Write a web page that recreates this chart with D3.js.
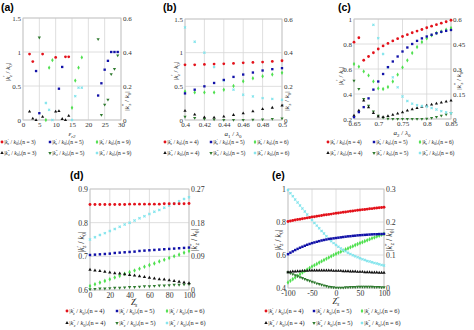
<!DOCTYPE html>
<html><head><meta charset="utf-8">
<script src="https://cdn.jsdelivr.net/npm/d3@7"></script>
<style>body{margin:0;background:#fff}svg{display:block}</style>
</head><body><svg id="c" width="474" height="330"></svg>
<script>
// ---------------- DATA ----------------
// (a) scattered points [eps_r2, value]
const aRed   = [[2,0.97],[3,0.86],[6,0.97],[10,0.92],[13,0.93],[14,0.93]];
const aBlue  = [[4,0.72],[5,0.1],[11,0.46],[12,0.78],[23,0.36],[24,0.54],[25,0.74],[26,0.87],[27,1.0],[28,1.0],[29,1.0]];
const aGreen = [[7,0.0],[8,0.77],[9,0.88],[15,0.18],[16,0.58],[17,0.77],[18,0.92]];
const aBlack = [[2,0.049],[3,0.008],[4,0.0],[6,0.018],[10,0.05],[11,0.052],[12,0.006],[13,0.0],[14,0.024]];
const aOlive = [[5,0.485],[23,0.475],[24,0.03],[25,0.09],[26,0.12],[27,0.27],[28,0.3],[29,0.38]];
const aCyan  = [[7,0.1],[8,0.06],[9,0.0],[15,0.0],[16,0.14],[17,0.19],[18,0.19]];
const aXTicks = [0,5,10,15,20,25,30], aYLTicks = [0,0.5,1,1.5], aYRTicks = [0,0.2,0.4,0.6];

// (b)
const bX     = [0.40,0.41,0.42,0.43,0.44,0.45,0.46,0.47,0.48,0.49,0.50];
const bRed   = [0.82,0.82,0.825,0.83,0.835,0.84,0.85,0.855,0.86,0.87,0.88];
const bBlue  = [0.395,0.45,0.5,0.55,0.595,0.64,0.675,0.705,0.735,0.755,0.77];
const bGreen = [0.425,0.41,0.41,0.41,0.45,0.505,0.575,0.62,0.65,0.675,0.70];
const bBlack = [0.055,0.032,0.016,0.014,0.02,0.03,0.04,0.052,0.065,0.073,0.085];
const bOlive = [0.02,0.012,0.006,0.003,0.001,0,0,0.002,0.004,0.007,0.01];
const bCyan  = [0.55,0.465,0.40,0.315,0.235,0.18,0.15,0.14,0.13,0.125,0.12];
const bXTicks = [0.4,0.42,0.44,0.46,0.48,0.5], bYLTicks = [0,0.5,1,1.5], bYRTicks = [0,0.2,0.4,0.6];

// (c)
const cX     = [0.65,0.66,0.67,0.68,0.69,0.70,0.71,0.72,0.73,0.74,0.75,0.76,0.77,0.78,0.79,0.80,0.81,0.82,0.83,0.84,0.85];
const cRed   = [0.815,0.85,0.67,0.70,0.73,0.76,0.785,0.805,0.825,0.843,0.86,0.875,0.89,0.903,0.916,0.93,0.943,0.955,0.967,0.978,0.99];
const cBlue  = [0.215,0.255,0.295,0.365,0.435,0.5,0.56,0.615,0.66,0.7,0.74,0.772,0.8,0.825,0.845,0.86,0.874,0.886,0.897,0.905,0.912];
const cGreen = [0.64,0.619,0.581,0.549,0.501,0.445,0.44,0.456,0.5,0.555,0.613,0.669,0.728,0.776,0.816,0.845,0.869,0.888,0.9,0.915,0.928];
const cBlack = [0.02,0.05,0.11,0.07,0.035,0.015,0.012,0.018,0.025,0.032,0.04,0.05,0.058,0.066,0.073,0.08,0.086,0.092,0.098,0.104,0.11];
const cOlive = [0.23,0.18,0.12,0.08,0.045,0.02,0.008,0.002,0,0,0,0,0,0,0,0.002,0.006,0.012,0.02,0.028,0.035];
const cCyan  = [null,null,null,null,0.565,0.485,0.39,0.31,0.25,0.19,0.135,0.108,0.092,0.083,0.078,0.075,0.066,0.057,0.047,0.04,0.035];
const cXTicks = [0.65,0.7,0.75,0.8,0.85], cYLTicks = [0.2,0.4,0.6,0.8,1], cYRTicks = [0,0.15,0.3,0.45,0.6];

// (d)
const dX     = [0,5,10,15,20,25,30,35,40,45,50,55,60,65,70,75,80,85,90,95,100];
const dRed   = [0.854,0.854,0.854,0.854,0.854,0.854,0.854,0.854,0.855,0.855,0.855,0.855,0.855,0.855,0.855,0.856,0.856,0.856,0.856,0.856,0.857];
const dBlue  = [0.704,0.705,0.706,0.707,0.708,0.710,0.711,0.712,0.713,0.714,0.716,0.717,0.718,0.719,0.720,0.721,0.722,0.723,0.724,0.725,0.726];
const dGreen = [0.612,0.617,0.622,0.627,0.632,0.637,0.642,0.648,0.653,0.658,0.663,0.669,0.674,0.679,0.685,0.690,0.695,0.700,0.705,0.711,0.716];
const dBlack = [0.054,0.052,0.051,0.049,0.047,0.045,0.044,0.042,0.040,0.039,0.037,0.035,0.033,0.031,0.029,0.028,0.026,0.024,0.022,0.020,0.018];
const dOlive = [0.002,0.003,0.004,0.004,0.005,0.006,0.006,0.007,0.008,0.008,0.009,0.010,0.010,0.011,0.012,0.012,0.013,0.014,0.014,0.015,0.016];
const dCyan  = [0.135,0.141,0.147,0.152,0.158,0.163,0.169,0.175,0.180,0.186,0.192,0.197,0.203,0.209,0.214,0.220,0.226,0.231,0.237,0.243,0.248];
const dXTicks = [0,20,40,60,80,100], dYLTicks = [0.6,0.7,0.8,0.9], dYRTicks = [0,0.09,0.18,0.27];

// (e)
const eX     = [-100,-95,-90,-85,-80,-75,-70,-65,-60,-55,-50,-45,-40,-35,-30,-25,-20,-15,-10,-5,0,5,10,15,20,25,30,35,40,45,50,55,60,65,70,75,80,85,90,95,100];
const eRed   = [0.803,0.806,0.809,0.812,0.815,0.817,0.820,0.822,0.825,0.827,0.830,0.832,0.835,0.837,0.839,0.842,0.844,0.846,0.848,0.851,0.853,0.855,0.857,0.859,0.861,0.863,0.865,0.867,0.869,0.871,0.873,0.875,0.876,0.878,0.880,0.881,0.883,0.885,0.886,0.888,0.889];
const eBlue  = [0.605,0.614,0.622,0.630,0.637,0.644,0.650,0.656,0.662,0.667,0.672,0.676,0.680,0.684,0.688,0.691,0.694,0.697,0.699,0.701,0.703,0.705,0.707,0.709,0.711,0.713,0.714,0.716,0.717,0.719,0.720,0.721,0.722,0.723,0.724,0.725,0.726,0.726,0.727,0.727,0.728];
const eGreen = [0.434,0.444,0.454,0.464,0.474,0.484,0.494,0.503,0.512,0.521,0.530,0.538,0.546,0.554,0.562,0.570,0.577,0.585,0.592,0.600,0.607,0.614,0.620,0.627,0.634,0.640,0.647,0.653,0.660,0.666,0.672,0.678,0.684,0.689,0.695,0.701,0.706,0.712,0.717,0.723,0.728];
const eBlack = [0.048,0.049,0.050,0.050,0.051,0.051,0.052,0.052,0.052,0.053,0.053,0.053,0.053,0.053,0.053,0.053,0.053,0.053,0.053,0.052,0.052,0.052,0.052,0.051,0.051,0.051,0.050,0.050,0.050,0.049,0.049,0.049,0.048,0.048,0.048,0.047,0.047,0.047,0.046,0.046,0.046];
const eOlive = [0.048,0.045,0.042,0.039,0.036,0.033,0.030,0.027,0.024,0.022,0.019,0.017,0.014,0.012,0.010,0.008,0.006,0.004,0.003,0.002,0.001,0.001,0.001,0.001,0.002,0.002,0.003,0.003,0.003,0.004,0.004,0.004,0.004,0.004,0.004,0.004,0.003,0.003,0.003,0.002,0.002];
const eCyan  = [0.297,0.287,0.278,0.268,0.259,0.250,0.241,0.232,0.223,0.214,0.206,0.197,0.189,0.181,0.173,0.165,0.157,0.149,0.142,0.136,0.130,0.125,0.120,0.115,0.111,0.107,0.103,0.099,0.096,0.093,0.090,0.087,0.085,0.082,0.080,0.078,0.076,0.074,0.072,0.070,0.068];
const eXTicks = [-100,-50,0,50,100], eYLTicks = [0.4,0.6,0.8,1], eYRTicks = [0,0.1,0.2,0.3];

const legendN = {a:[3,5,9], b:[4,5,6], c:[4,5,6], d:[4,5,6], e:[4,5,6]};

// ---------------- STYLE ----------------
const SER = {
  red:   {color:"#e3121b", sym:d3.symbolCircle,   rot:0,   size:6},
  blue:  {color:"#1212a8", sym:d3.symbolSquare,   rot:0,   size:5.5},
  green: {color:"#4fe04f", sym:d3.symbolDiamond,  rot:0,   size:5.5},
  black: {color:"#111111", sym:d3.symbolTriangle, rot:0,   size:4.5},
  olive: {color:"#2f7a2f", sym:d3.symbolTriangle, rot:180, size:4.5},
  cyan:  {color:"#80e4ec", sym:d3.symbolCross,    rot:45,  size:5}
};
const SERIF = "'Liberation Serif','Times New Roman',serif";
const svg = d3.select("#c");

function rich(sel, parts, fs) {
  let prev = 0;
  parts.forEach(p => {
    const sh = (p.s || 0) * fs;
    const t = sel.append("tspan").attr("dy", (sh - prev).toFixed(2))
      .attr("font-size", ((p.k || 1) * fs).toFixed(2)).text(p.t);
    if (p.dx) t.attr("dx", (p.dx * fs).toFixed(2));
    if (p.i) t.attr("font-style", "italic");
    prev = sh;
  });
}
const kParts = pr => [{t:"|"},{t:"k",i:true},{t:pr,s:-0.38,k:0.75},{t:"z",s:0.28,k:0.7,dx:-0.22,i:true},
  {t:" / "},{t:"k",i:true},{t:"0",s:0.28,k:0.7},{t:"|"}];

function panel(c) {
  const g = svg.append("g");
  const x  = d3.scaleLinear().domain(c.xd).range([c.x0, c.x1]);
  const yL = d3.scaleLinear().domain(c.yld).range([c.yb, c.yt]);
  const yR = d3.scaleLinear().domain(c.yrd).range([c.yb, c.yt]);
  // grid
  g.append("g").selectAll("line").data(c.xt).join("line")
    .attr("x1", d => x(d)).attr("x2", d => x(d)).attr("y1", c.yt).attr("y2", c.yb)
    .attr("stroke", "#d6d6d6").attr("stroke-width", 0.8);
  g.append("g").selectAll("line").data(c.ylt).join("line")
    .attr("y1", d => yL(d)).attr("y2", d => yL(d)).attr("x1", c.x0).attr("x2", c.x1)
    .attr("stroke", "#d6d6d6").attr("stroke-width", 0.8);
  g.append("rect").attr("x", c.x0).attr("y", c.yt).attr("width", c.x1 - c.x0).attr("height", c.yb - c.yt)
    .attr("fill", "none").attr("stroke", "#c4c4c4").attr("stroke-width", 0.8);
  // axes
  const styleAx = a => { a.select(".domain").remove(); a.selectAll("line").remove();
    a.selectAll("text").attr("font-family", SERIF).attr("font-size", c.fs).attr("fill", "#333"); };
  g.append("g").attr("transform", `translate(0,${c.yb})`)
    .call(d3.axisBottom(x).tickValues(c.xt).tickSize(0).tickPadding(2.5).tickFormat(d => String(d))).call(styleAx);
  g.append("g").attr("transform", `translate(${c.x0},0)`)
    .call(d3.axisLeft(yL).tickValues(c.ylt).tickSize(0).tickPadding(2).tickFormat(d => String(d))).call(styleAx);
  g.append("g").attr("transform", `translate(${c.x1},0)`)
    .call(d3.axisRight(yR).tickValues(c.yrt).tickSize(0).tickPadding(2).tickFormat(d => String(d))).call(styleAx);
  // marks
  c.series.forEach(s => {
    const st = SER[s.key], ys = s.axis === "L" ? yL : yR;
    g.append("g").selectAll("path").data(s.data.filter(d => d[1] != null)).join("path")
      .attr("d", d3.symbol().type(st.sym).size(st.size * c.ms))
      .attr("transform", d => `translate(${x(d[0]).toFixed(2)},${ys(d[1]).toFixed(2)}) rotate(${st.rot})`)
      .attr("fill", st.color);
  });
  // title
  g.append("text").attr("x", c.tx).attr("y", c.ty).attr("font-family", "'Liberation Sans',Arial,sans-serif")
    .attr("font-weight", "bold").attr("font-size", 10.5).text(c.title);
  // axis labels
  const lt = g.append("text").attr("font-family", SERIF).attr("fill", "#222").attr("text-anchor", "middle")
    .attr("transform", `translate(${c.ll[0]},${c.ll[1]}) rotate(-90)`);
  rich(lt, kParts("\u2032"), c.afs);
  const rt = g.append("text").attr("font-family", SERIF).attr("fill", "#222").attr("text-anchor", "middle")
    .attr("transform", `translate(${c.rl[0]},${c.rl[1]}) rotate(-90)`);
  rich(rt, kParts("\u2033"), c.afs);
  const xl = g.append("text").attr("font-family", SERIF).attr("fill", "#222").attr("text-anchor", "middle")
    .attr("x", c.xl[0]).attr("y", c.xl[1]);
  rich(xl, c.xlab, c.afs);
  // legend
  const rows = [["red","blue","green"],["black","olive","cyan"]];
  rows.forEach((row, ri) => row.forEach((k, ci) => {
    const lx = c.lx[ci], ly = c.ly[ri], st = SER[k];
    g.append("path").attr("d", d3.symbol().type(st.sym).size(st.size * 1.1))
      .attr("transform", `translate(${lx},${ly}) rotate(${st.rot})`).attr("fill", st.color);
    const t = g.append("text").attr("font-family", SERIF).attr("fill", "#222")
      .attr("x", lx + 2.2).attr("y", ly + c.lfs * 0.33);
    rich(t, kParts(ri === 0 ? "\u2032" : "\u2033").concat([{t:",(n = " + c.n[ci] + ")"}]), c.lfs);
  }));
}

const zip = (xs, ys) => xs.map((v, i) => [v, ys[i]]);
const mkSeries = (r, b, gr, bk, ol, cy) => [
  {key:"green", axis:"L", data:gr}, {key:"olive", axis:"R", data:ol}, {key:"black", axis:"R", data:bk},
  {key:"cyan", axis:"R", data:cy}, {key:"blue", axis:"L", data:b}, {key:"red", axis:"L", data:r}];

panel({title:"(a)", tx:1, ty:11, x0:23, x1:121, yt:18, yb:120, xd:[0,30], yld:[0,1.5], yrd:[0,0.6],
  xt:aXTicks, ylt:aYLTicks, yrt:aYRTicks, fs:7, afs:7, lfs:5.6, ms:1,
  ll:[10,72], rl:[129,101], xl:[72,136], xlab:[{t:"\u03b5",i:true},{t:"r2",s:0.28,k:0.7,i:true}],
  lx:[2,50,97], ly:[142,153], n:legendN.a,
  series: mkSeries(aRed, aBlue, aGreen, aBlack, aOlive, aCyan)});

panel({title:"(b)", tx:163, ty:11, x0:185, x1:282, yt:19, yb:120, xd:[0.4,0.5], yld:[0,1.5], yrd:[0,0.6],
  xt:bXTicks, ylt:bYLTicks, yrt:bYRTicks, fs:7, afs:7, lfs:5.6, ms:1,
  ll:[178,71], rl:[289,101], xl:[233,136],
  xlab:[{t:"a",i:true},{t:"1",s:0.28,k:0.7},{t:" / "},{t:"\u03bb",i:true},{t:"0",s:0.28,k:0.7}],
  lx:[165,211,255], ly:[142,153], n:legendN.b,
  series: mkSeries(zip(bX,bRed), zip(bX,bBlue), zip(bX,bGreen), zip(bX,bBlack), zip(bX,bOlive), zip(bX,bCyan))});

panel({title:"(c)", tx:338, ty:11, x0:354, x1:451, yt:19, yb:119, xd:[0.65,0.85], yld:[0.2,1], yrd:[0,0.6],
  xt:cXTicks, ylt:cYLTicks, yrt:cYRTicks, fs:7, afs:7, lfs:5.6, ms:1,
  ll:[343,76], rl:[461,80], xl:[402,135],
  xlab:[{t:"a",i:true},{t:"2",s:0.28,k:0.7},{t:" / "},{t:"\u03bb",i:true},{t:"0",s:0.28,k:0.7}],
  lx:[328,374,420], ly:[142,153], n:legendN.c,
  series: mkSeries(zip(cX,cRed), zip(cX,cBlue), zip(cX,cGreen), zip(cX,cBlack), zip(cX,cOlive), zip(cX,cCyan))});

panel({title:"(d)", tx:70, ty:179, x0:90, x1:189, yt:189, yb:290, xd:[0,100], yld:[0.6,0.9], yrd:[0,0.27],
  xt:dXTicks, ylt:dYLTicks, yrt:dYRTicks, fs:7.8, afs:8, lfs:6.3, ms:1.1,
  ll:[84,242], rl:[197,240], xl:[134,305],
  xlab:[{t:"Z",i:true},{t:"\u2032",s:-0.38,k:0.75},{t:"s",s:0.28,k:0.7,dx:-0.22,i:true}],
  lx:[67,117,167], ly:[311,323], n:legendN.d,
  series: mkSeries(zip(dX,dRed), zip(dX,dBlue), zip(dX,dGreen), zip(dX,dBlack), zip(dX,dOlive), zip(dX,dCyan))});

panel({title:"(e)", tx:272, ty:179, x0:288, x1:384, yt:189, yb:288, xd:[-100,100], yld:[0.4,1], yrd:[0,0.3],
  xt:eXTicks, ylt:eYLTicks, yrt:eYRTicks, fs:7.8, afs:8, lfs:6.3, ms:1.1,
  ll:[281,240], rl:[392,240], xl:[336,304],
  xlab:[{t:"Z",i:true},{t:"\u2033",s:-0.38,k:0.75},{t:"s",s:0.28,k:0.7,dx:-0.3,i:true}],
  lx:[266,314,362], ly:[311,323], n:legendN.e,
  series: mkSeries(zip(eX,eRed), zip(eX,eBlue), zip(eX,eGreen), zip(eX,eBlack), zip(eX,eOlive), zip(eX,eCyan))});
</script></body></html>
